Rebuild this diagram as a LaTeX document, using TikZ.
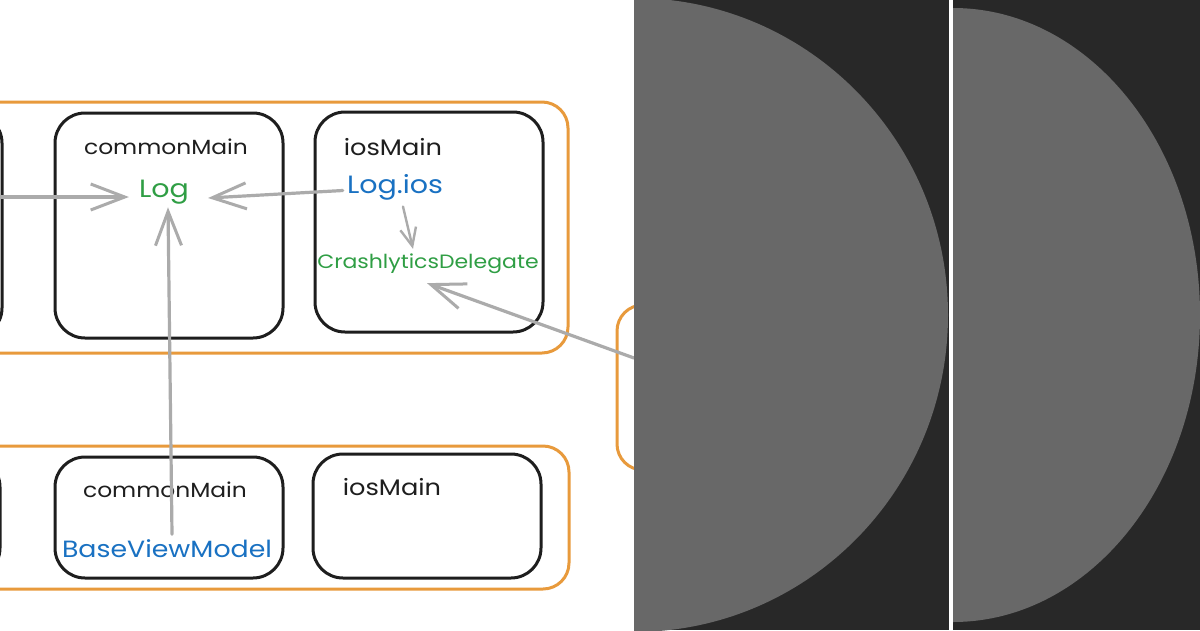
\documentclass[tikz,border=0pt]{standalone}
\usepackage{fontspec}
\setmainfont[FakeStretch=1.14]{Poppins}
\usetikzlibrary{arrows.meta}
\definecolor{grporange}{HTML}{E89A3C}
\definecolor{inkblack}{HTML}{1E1E1E}
\definecolor{arrgrey}{HTML}{ABABAB}
\definecolor{xgreen}{HTML}{2F9E44}
\definecolor{xblue}{HTML}{1971C2}
\definecolor{panel}{HTML}{282828}
\definecolor{disc}{HTML}{686868}
\tikzset{
  grp/.style={draw=grporange, line width=3pt, rounded corners=26pt, inner sep=0pt},
  modbox/.style={draw=inkblack, line width=3pt, rounded corners=30pt, inner sep=0pt},
  lbl/.style={inner sep=0pt, text=inkblack, font=\fontsize{20.5}{24}\selectfont},
  lblb/.style={inner sep=0pt, text=inkblack, font=\fontsize{22.5}{24}\selectfont},
  arr/.style={draw=arrgrey, line width=3.2pt, line cap=round, line join=round,
    -{Straight Barb[length=34pt, width=26pt, line width=3pt]}},
  arrsmall/.style={draw=arrgrey, line width=2.4pt, line cap=round,
    -{Straight Barb[length=18pt, width=16pt, line width=2.4pt]}},
}
\begin{document}
\begin{tikzpicture}[x=1pt, y=-1pt]
\useasboundingbox (0,0) rectangle (1200,630);
\clip (0,0) rectangle (1200,630);
\fill[white] (0,0) rectangle (1200,630);
% group frames
\node[grp, minimum width=668, minimum height=251] (grp1) at (234,227.5) {};
\node[grp, minimum width=669, minimum height=143] (grp2) at (234.5,517.5) {};
\node[grp, minimum width=183, minimum height=165] (grp3) at (708.5,387.5) {};
% module boxes
\node[modbox, minimum width=228, minimum height=225] (lbox1) at (-112,225.5) {};
\node[modbox, minimum width=228, minimum height=225] (cm1) at (169,225.5) {};
\node[modbox, minimum width=228, minimum height=220] (ios1) at (429,222) {};
\node[modbox, minimum width=228, minimum height=121] (lbox2) at (-114,517.5) {};
\node[modbox, minimum width=228, minimum height=121] (cm2) at (169,517.5) {};
\node[modbox, minimum width=228, minimum height=124] (ios2) at (427,516) {};
% labels
\node[lbl] (tcm1) at (166,147) {commonMain};
\node[lblb] (tios1) at (393,147) {iosMain};
\node[lbl] (tcm2) at (165,490) {commonMain};
\node[lblb] (tios2) at (392,487) {iosMain};
\node[inner sep=0pt, text=xgreen, font=\fontsize{25}{28}\selectfont] (log) at (164,192) {Log};
\node[inner sep=0pt, text=xblue, font=\fontsize{25}{28}\selectfont] (logios) at (395,187.5) {Log.ios};
\node[inner sep=0pt, text=xgreen, font=\fontsize{19.3}{22}\selectfont] (crash) at (428,264) {CrashlyticsDelegate};
\node[inner sep=0pt, text=xblue, font=\fontsize{23.5}{30}\selectfont] (bvm) at (167,548.5) {BaseViewModel};
% free ends
\coordinate (leftsrc) at (0,197);
\coordinate (extsrc) at (634,358);
% connectors
\draw[arr, shorten >=10pt] (leftsrc) -- (leftsrc -| log.west);
\draw[arr] ([shift={(-4,3)}]logios.west) -- ([shift={(19,6)}]log.east);
\draw[arr] ([shift={(5,-5)}]bvm.north) -- ([shift={(4,3)}]log.south);
\draw[arrsmall] ([shift={(8,6)}]logios.south) -- ([shift={(-15,-5)}]crash.north);
\draw[arr] (extsrc) -- ([shift={(-1,9)}]crash.south);
% right dark panels
\fill[panel] (634,0) rectangle (949,630);
\fill[panel] (953,0) rectangle (1200,630);
\begin{scope}
  \clip (634,0) rectangle (949,630);
  \fill[disc] (634,315) ellipse [x radius=314, y radius=317];
\end{scope}
\begin{scope}
  \clip (953,0) rectangle (1200,630);
  \fill[disc] (953,315) ellipse [x radius=247, y radius=307];
\end{scope}
\end{tikzpicture}
\end{document}
